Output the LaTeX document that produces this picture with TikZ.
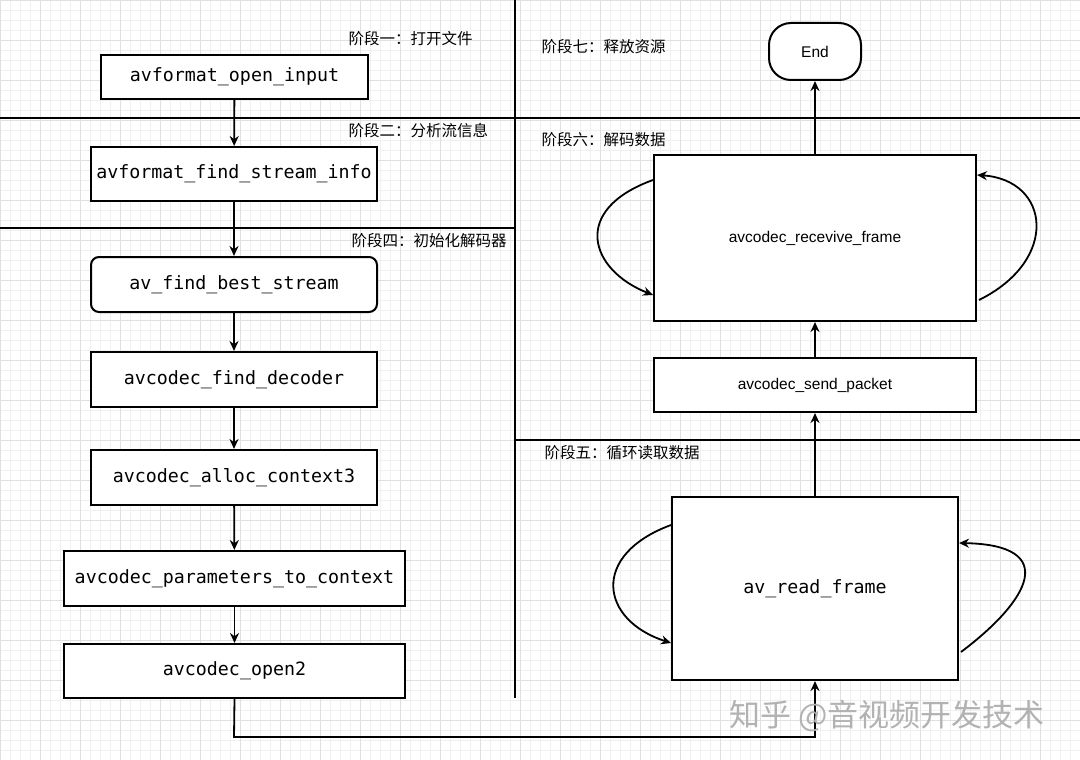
\documentclass[tikz,border=0pt]{standalone}
\usepackage{fontspec}
\setmonofont{DejaVu Sans Mono}
\setsansfont{Liberation Sans}
\newfontfamily\cjk{Noto Sans CJK SC}
\usetikzlibrary{arrows.meta}
\begin{document}
\begin{tikzpicture}[x=1pt,y=-1pt,
  box/.style={draw,line width=2pt,fill=white,inner sep=0pt,font=\ttfamily\fontsize{18.3}{21}\selectfont},
  sbox/.style={draw,line width=2pt,fill=white,inner sep=0pt,font=\sffamily\fontsize{15.5}{18}\selectfont},
  lab/.style={anchor=west,font=\cjk\fontsize{15.5}{18}\selectfont},
  arr/.style={line width=1.8pt,-{Stealth[length=10pt,width=9pt]}},
  sep/.style={line width=1.8pt}]
\useasboundingbox (0,0) rectangle (1080,760);
\fill[white] (0,0) rectangle (1080,760);
\draw[black!6,step=10pt] (0,0) grid (1080,760);
\draw[black!12,step=40pt] (0,0) grid (1080,760);
% separators
\draw[sep] (0,118) -- (1080,118);
\draw[sep] (0,228) -- (515,228);
\draw[sep] (515,440) -- (1080,440);
\draw[sep] (515,0) -- (515,698);
% labels
\node[lab] (l1) at (345,39) {阶段一：打开文件};
\node[lab] (l2) at (345,131) {阶段二：分析流信息};
\node[lab] (l4) at (348,241) {阶段四：初始化解码器};
\node[lab] (l7) at (538,47) {阶段七：释放资源};
\node[lab] (l6) at (538,140) {阶段六：解码数据};
\node[lab] (l5) at (541,453) {阶段五：循环读取数据};
% left boxes
\node[box,minimum width=267pt,minimum height=44pt] (b1) at (234.5,77) {avformat\_open\_input};
\node[box,minimum width=286pt,minimum height=54pt] (b2) at (234,174) {avformat\_find\_stream\_info};
\node[box,minimum width=286pt,minimum height=55pt,rounded corners=8pt] (b3) at (234,284.5) {av\_find\_best\_stream};
\node[box,minimum width=286pt,minimum height=55pt] (b4) at (234,379.5) {avcodec\_find\_decoder};
\node[box,minimum width=286pt,minimum height=55pt] (b5) at (234,477.5) {avcodec\_alloc\_context3};
\node[box,minimum width=341pt,minimum height=55pt] (b6) at (234.5,578.5) {avcodec\_parameters\_to\_context};
\node[box,minimum width=341pt,minimum height=54pt] (b7) at (234.5,671) {avcodec\_open2};
% right boxes
\node[box,minimum width=286pt,minimum height=183pt] (rf) at (815,588.5) {av\_read\_frame};
\node[sbox,minimum width=322pt,minimum height=54pt] (sp) at (815,385) {avcodec\_send\_packet};
\node[sbox,minimum width=322pt,minimum height=166pt] (rv) at (815,238) {avcodec\_recevive\_frame};
\node[sbox,minimum width=92pt,minimum height=57pt,rounded corners=22pt] (end) at (815,51.5) {End};
% arrows
\draw[arr] (b1) -- (b2);
\draw[arr] (b2) -- (b3);
\draw[arr] (b3) -- (b4);
\draw[arr] (b4) -- (b5);
\draw[arr] (b5) -- (b6);
\draw[arr] (b6) -- (b7);
\draw[arr] (b7.south) -- (234,737) -- (815,737) -- (rf.south);
\draw[arr] (rf) -- (sp);
\draw[arr] (sp) -- (rv);
\draw[arr] (rv) -- (end);
% loops
\draw[arr] (rf.west|-0,525) .. controls (590,555) and (600,620) .. (rf.west|-0,643);
\draw[arr] (961,652) .. controls (1030,600) and (1060,545) .. (rf.east|-0,543);
\draw[arr] (rv.west|-0,180) .. controls (570,210) and (590,270) .. (rv.west|-0,295);
\draw[arr] (979,300) .. controls (1060,260) and (1050,180) .. (rv.east|-0,175);
% watermark
\node[anchor=west,font=\cjk\fontsize{31}{34}\selectfont,text=black!30] (wm) at (726,716) {知乎 @音视频开发技术};
\end{tikzpicture}
\end{document}
